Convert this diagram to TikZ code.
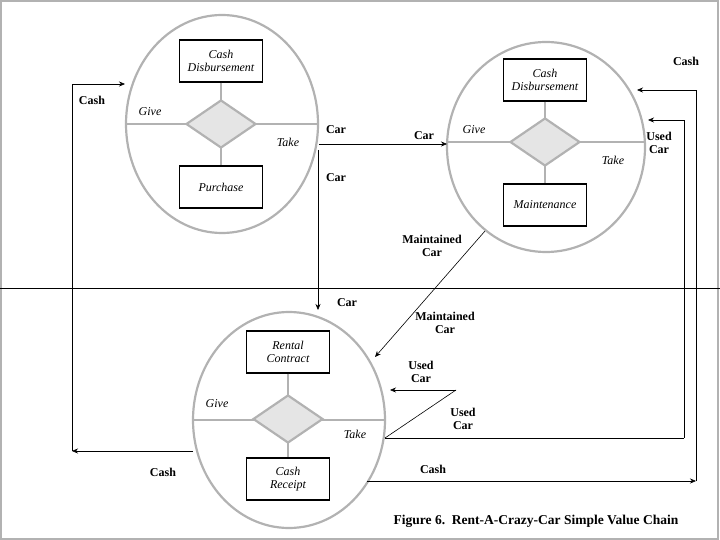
\documentclass[tikz,border=0pt]{standalone}
\usepackage{fontspec}
\setmainfont{Liberation Serif}
\usetikzlibrary{arrows.meta,shapes.geometric}
\begin{document}
\begin{tikzpicture}[x=1pt,y=-1pt,
 ell/.style={draw=black!30,line width=2.2pt,ellipse,inner sep=0pt},
 box/.style={draw,line width=1.3pt,minimum width=83pt,minimum height=42pt,align=center,font=\itshape\fontsize{12}{13}\selectfont,inner sep=1pt},
 dia/.style={draw=black!30,fill=black!10,line width=2.2pt,diamond,minimum width=70pt,minimum height=48pt,inner sep=0pt},
 gl/.style={draw=black!30,line width=2.2pt},
 lab/.style={font=\bfseries\fontsize{12}{13.5}\selectfont,align=center,inner sep=0pt},
 it/.style={font=\itshape\fontsize{12}{13}\selectfont,inner sep=0pt},
 arr/.style={-{Stealth[length=6pt,width=5pt]},line width=0.6pt},
 ln/.style={line width=0.6pt}]
\useasboundingbox (0,0) rectangle (720,540);
\draw[black!30,line width=2pt] (1,1) rectangle (718,539);
\draw[ln] (0,288) -- (720,288);
% ellipse 1
\node[ell,minimum width=192pt,minimum height=218pt] (e1) at (222,124) {};
\draw[gl] (e1.west) -- (e1.east);
\node[box] (b1) at (221,61) {Cash\\Disbursement};
\node[box] (p1) at (221,187) {Purchase};
\draw[gl] (b1) -- (p1);
\node[dia] (d1) at (221,124) {};
\node[it] (g1) at (150,112) {Give};
\node[it] (t1) at (288,142) {Take};
% ellipse 2
\node[ell,minimum width=198pt,minimum height=210pt] (e2) at (546,147) {};
\draw[gl] (e2.west |- 0,142) -- (e2.east |- 0,142);
\node[box] (b2) at (545,80) {Cash\\Disbursement};
\node[box] (m2) at (545,205) {Maintenance};
\draw[gl] (b2) -- (m2);
\node[dia] (d2) at (545,142) {};
\node[it] (g2) at (474,130) {Give};
\node[it] (t2) at (613,160) {Take};
% ellipse 3
\node[ell,minimum width=192pt,minimum height=216pt] (e3) at (289,420) {};
\draw[gl] (e3.west) -- (e3.east);
\node[box] (b3) at (288,352) {Rental\\Contract};
\node[box] (c3) at (288,479) {Cash\\Receipt};
\draw[gl] (b3) -- (c3);
\node[dia] (d3) at (288,419) {};
\node[it] (g3) at (217,404) {Give};
\node[it] (t3) at (355,434) {Take};
% coordinates
\coordinate (a1) at (319,144); \coordinate (a2) at (447,144);
\coordinate (a3) at (318,150); \coordinate (a4) at (318,310);
\coordinate (m1) at (485,231); \coordinate (m2e) at (375,357);
\coordinate (u1) at (385,438); \coordinate (u2) at (456,390); \coordinate (u3) at (390,390);
\coordinate (u4) at (684,438); \coordinate (u5) at (684,120); \coordinate (u6) at (648,120);
\coordinate (c1) at (367,481); \coordinate (c2) at (696,481); \coordinate (c4) at (696,90); \coordinate (c5) at (637,90);
\coordinate (k1) at (193,451); \coordinate (k2) at (72,451); \coordinate (k3) at (72,84); \coordinate (k4) at (125,84);
\draw[arr] (a1) -- (a2);
\draw[arr] (a3) -- (a4);
\draw[arr] (m1) -- (m2e);
\draw[ln] (u1) -- (u2); \draw[arr] (u2) -- (u3);
\draw[ln] (u1) -- (u4); \draw[arr] (u4) -- (u5) -- (u6);
\draw[arr] (c1) -- (c2); \draw[arr] (c2) -- (c4) -- (c5);
\draw[arr] (k1) -- (k2); \draw[arr] (k2) -- (k3) -- (k4);
% labels
\node[lab] at (92,100) {Cash};
\node[lab] at (336,130) {Car};
\node[lab] at (336,178) {Car};
\node[lab] at (424,136) {Car};
\node[lab] at (347,303) {Car};
\node[lab] at (686,61) {Cash};
\node[lab] at (659,143) {Used\\Car};
\node[lab] at (432,246) {Maintained\\Car};
\node[lab] at (445,323) {Maintained\\Car};
\node[lab] at (421,372) {Used\\Car};
\node[lab] at (463,419) {Used\\Car};
\node[lab] at (433,469) {Cash};
\node[lab] at (163,472) {Cash};
\node[font=\bfseries\fontsize{13.5}{15}\selectfont,inner sep=0pt] at (536,521) {Figure 6.\ \ Rent-A-Crazy-Car Simple Value Chain};
\end{tikzpicture}
\end{document}
